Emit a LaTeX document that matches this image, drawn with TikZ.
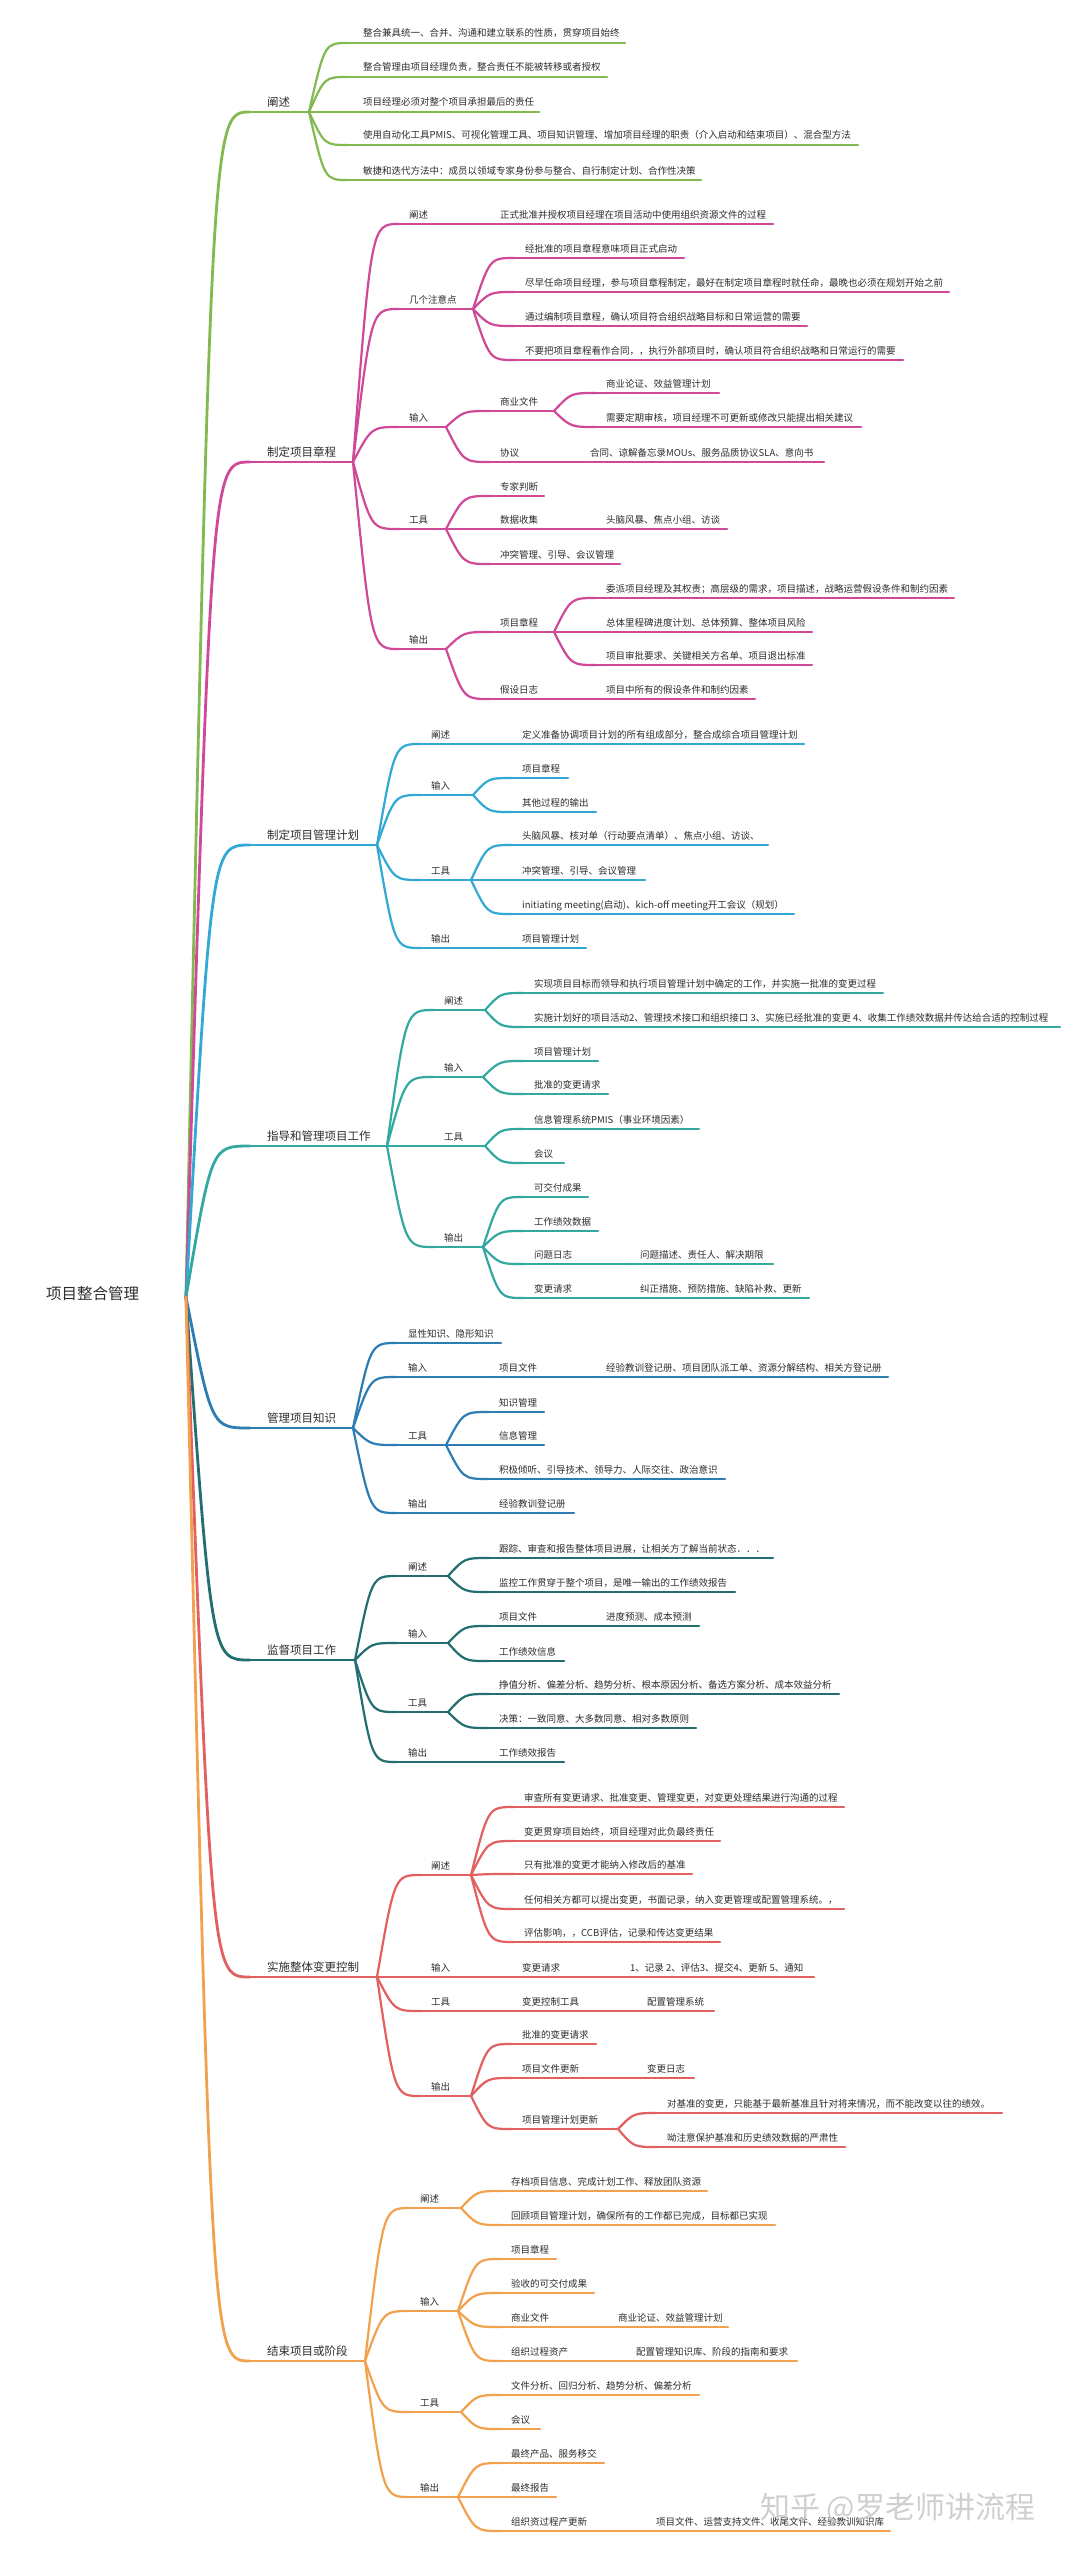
\documentclass[tikz,border=0pt]{standalone}
\usepackage{fontspec}
\setmainfont{Noto Sans CJK SC}
\usetikzlibrary{calc}
\definecolor{cA}{RGB}{130,185,80}
\definecolor{cB}{RGB}{208,72,152}
\definecolor{cC}{RGB}{50,168,212}
\definecolor{cD}{RGB}{50,168,160}
\definecolor{cE}{RGB}{45,125,180}
\definecolor{cF}{RGB}{35,110,112}
\definecolor{cG}{RGB}{226,96,96}
\definecolor{cH}{RGB}{242,162,78}
\definecolor{txt}{RGB}{45,45,45}
\tikzset{
  ln/.style={line width=2.2pt, line cap=round},
  lnone/.style={line width=2.8pt, line cap=round},
  lf/.style={anchor=base west, inner sep=0pt, text=txt, font=\fontsize{9.5}{11}\selectfont},
  lonef/.style={anchor=base west, inner sep=0pt, text=txt, font=\fontsize{11.5}{13}\selectfont},
  rootf/.style={anchor=base west, inner sep=0pt, text=txt, font=\fontsize{15.5}{18}\selectfont},
  wm/.style={anchor=base west, inner sep=0pt, text=black!22, opacity=0.85, font=\fontsize{30}{34}\selectfont},
  conn/.style={to path={.. controls ($(\tikztostart|-\tikztotarget)!0.4!(\tikztotarget)$) .. (\tikztotarget)}}
}
% name, color, xs, xe, y, textx, text
\newcommand{\tpc}[7]{%
  \coordinate (#1s) at (#3,#5);
  \coordinate (#1e) at (#4,#5);
  \draw[#2,ln] (#1s) -- (#1e);
  \node[lf] (#1) at (#6,#5-6) {#7};
}
\newcommand{\tpl}[7]{%
  \coordinate (#1s) at (#3,#5);
  \coordinate (#1e) at (#4,#5);
  \draw[#2,lnone] (#1s) -- (#1e);
  \node[lonef] (#1) at (#6,#5-5.5) {#7};
}
\newcommand{\cnx}[3]{\draw[#1,ln] (#2e) to[conn] (#3s);}
\newcommand{\cnxl}[3]{\draw[#1,lnone] (#2e) to[conn] (#3s);}
\begin{document}
\begin{tikzpicture}[x=1pt,y=-1pt]
\fill[white] (0,0) rectangle (1080,2553);
\useasboundingbox (0,0) rectangle (1080,2553);

% root
\node[rootf] (R) at (46,1299) {项目整合管理};
\coordinate (Re) at (186,1297);

% level 1
\tpl{A}{cA}{250}{309}{112}{267}{阐述}
\tpl{B}{cB}{250}{353}{462}{267}{制定项目章程}
\tpl{C}{cC}{250}{377}{845}{267}{制定项目管理计划}
\tpl{D}{cD}{250}{387}{1146}{267}{指导和管理项目工作}
\tpl{E}{cE}{250}{353}{1428}{267}{管理项目知识}
\tpl{F}{cF}{250}{355}{1660}{267}{监督项目工作}
\tpl{G}{cG}{250}{377}{1977}{267}{实施整体变更控制}
\tpl{H}{cH}{250}{365}{2361}{267}{结束项目或阶段}
\cnxl{cA}{R}{A}
\cnxl{cB}{R}{B}
\cnxl{cC}{R}{C}
\cnxl{cD}{R}{D}
\cnxl{cE}{R}{E}
\cnxl{cF}{R}{F}
\cnxl{cG}{R}{G}
\cnxl{cH}{R}{H}

% A
\tpc{A1}{cA}{348}{625}{43}{363}{整合兼具统一、合并、沟通和建立联系的性质，贯穿项目始终}
\tpc{A2}{cA}{348}{607}{77}{363}{整合管理由项目经理负责，整合责任不能被转移或者授权}
\tpc{A3}{cA}{348}{539}{112}{363}{项目经理必须对整个项目承担最后的责任}
\tpc{A4}{cA}{348}{858}{145}{363}{使用自动化工具PMIS、可视化管理工具、项目知识管理、增加项目经理的职责（介入启动和结束项目）、混合型方法}
\tpc{A5}{cA}{348}{701}{180}{363}{敏捷和迭代方法中：成员以领域专家身份参与整合、自行制定计划、合作性决策}
\cnx{cA}{A}{A1}\cnx{cA}{A}{A2}\cnx{cA}{A}{A3}\cnx{cA}{A}{A4}\cnx{cA}{A}{A5}

% B
\tpc{B1}{cB}{399}{490}{224}{409}{阐述}
\tpc{B11}{cB}{490}{773}{224}{500}{正式批准并授权项目经理在项目活动中使用组织资源文件的过程}
\tpc{B2}{cB}{399}{473}{309}{409}{几个注意点}
\tpc{B21}{cB}{515}{684}{258}{525}{经批准的项目章程意味项目正式启动}
\tpc{B22}{cB}{515}{949}{292}{525}{尽早任命项目经理，参与项目章程制定，最好在制定项目章程时就任命，最晚也必须在规划开始之前}
\tpc{B23}{cB}{515}{807}{326}{525}{通过编制项目章程，确认项目符合组织战略目标和日常运营的需要}
\tpc{B24}{cB}{515}{903}{360}{525}{不要把项目章程看作合同，，执行外部项目时，确认项目符合组织战略和日常运行的需要}
\tpc{B3}{cB}{399}{446}{427}{409}{输入}
\tpc{B31}{cB}{490}{554}{411}{500}{商业文件}
\tpc{B311}{cB}{596}{719}{393}{606}{商业论证、效益管理计划}
\tpc{B312}{cB}{596}{861}{427}{606}{需要定期审核，项目经理不可更新或修改只能提出相关建议}
\tpc{B32}{cB}{490}{580}{462}{500}{协议}
\tpc{B321}{cB}{580}{824}{462}{590}{合同、谅解备忘录MOUs、服务品质协议SLA、意向书}
\tpc{B4}{cB}{399}{446}{529}{409}{工具}
\tpc{B41}{cB}{490}{544}{496}{500}{专家判断}
\tpc{B42}{cB}{490}{596}{529}{500}{数据收集}
\tpc{B421}{cB}{596}{727}{529}{606}{头脑风暴、焦点小组、访谈}
\tpc{B43}{cB}{490}{620}{564}{500}{冲突管理、引导、会议管理}
\tpc{B5}{cB}{399}{446}{649}{409}{输出}
\tpc{B51}{cB}{490}{554}{632}{500}{项目章程}
\tpc{B511}{cB}{596}{954}{598}{606}{委派项目经理及其权责；高层级的需求，项目描述，战略运营假设条件和制约因素}
\tpc{B512}{cB}{596}{812}{632}{606}{总体里程碑进度计划、总体预算、整体项目风险}
\tpc{B513}{cB}{596}{812}{665}{606}{项目审批要求、关键相关方名单、项目退出标准}
\tpc{B52}{cB}{490}{596}{699}{500}{假设日志}
\tpc{B521}{cB}{596}{755}{699}{606}{项目中所有的假设条件和制约因素}
\cnx{cB}{B}{B1}\cnx{cB}{B}{B2}\cnx{cB}{B}{B3}\cnx{cB}{B}{B4}\cnx{cB}{B}{B5}
\cnx{cB}{B1}{B11}
\cnx{cB}{B2}{B21}\cnx{cB}{B2}{B22}\cnx{cB}{B2}{B23}\cnx{cB}{B2}{B24}
\cnx{cB}{B3}{B31}\cnx{cB}{B3}{B32}\cnx{cB}{B31}{B311}\cnx{cB}{B31}{B312}\cnx{cB}{B32}{B321}
\cnx{cB}{B4}{B41}\cnx{cB}{B4}{B42}\cnx{cB}{B4}{B43}\cnx{cB}{B42}{B421}
\cnx{cB}{B5}{B51}\cnx{cB}{B5}{B52}\cnx{cB}{B51}{B511}\cnx{cB}{B51}{B512}\cnx{cB}{B51}{B513}\cnx{cB}{B52}{B521}

% C
\tpc{C1}{cC}{421}{512}{744}{431}{阐述}
\tpc{C11}{cC}{512}{804}{744}{522}{定义准备协调项目计划的所有组成部分，整合成综合项目管理计划}
\tpc{C2}{cC}{421}{473}{795}{431}{输入}
\tpc{C21}{cC}{512}{568}{778}{522}{项目章程}
\tpc{C22}{cC}{512}{596}{812}{522}{其他过程的输出}
\tpc{C3}{cC}{421}{471}{880}{431}{工具}
\tpc{C31}{cC}{512}{768}{845}{522}{头脑风暴、核对单（行动要点清单）、焦点小组、访谈、}
\tpc{C32}{cC}{512}{645}{880}{522}{冲突管理、引导、会议管理}
\tpc{C33}{cC}{512}{794}{914}{522}{initiating meeting(启动)、kich-off meeting开工会议（规划）}
\tpc{C4}{cC}{421}{512}{948}{431}{输出}
\tpc{C41}{cC}{512}{586}{948}{522}{项目管理计划}
\cnx{cC}{C}{C1}\cnx{cC}{C}{C2}\cnx{cC}{C}{C3}\cnx{cC}{C}{C4}
\cnx{cC}{C1}{C11}\cnx{cC}{C2}{C21}\cnx{cC}{C2}{C22}
\cnx{cC}{C3}{C31}\cnx{cC}{C3}{C32}\cnx{cC}{C3}{C33}\cnx{cC}{C4}{C41}

% D
\tpc{D1}{cD}{434}{485}{1010}{444}{阐述}
\tpc{D11}{cD}{524}{883}{993}{534}{实现项目目标而领导和执行项目管理计划中确定的工作，并实施一批准的变更过程}
\tpc{D12}{cD}{524}{1060}{1027}{534}{实施计划好的项目活动2、管理技术接口和组织接口 3、实施已经批准的变更 4、收集工作绩效数据并传达给合适的控制过程}
\tpc{D2}{cD}{434}{483}{1077}{444}{输入}
\tpc{D21}{cD}{524}{598}{1061}{534}{项目管理计划}
\tpc{D22}{cD}{524}{608}{1094}{534}{批准的变更请求}
\tpc{D3}{cD}{434}{485}{1146}{444}{工具}
\tpc{D31}{cD}{524}{699}{1129}{534}{信息管理系统PMIS（事业环境因素）}
\tpc{D32}{cD}{524}{564}{1163}{534}{会议}
\tpc{D4}{cD}{434}{483}{1247}{444}{输出}
\tpc{D41}{cD}{524}{588}{1197}{534}{可交付成果}
\tpc{D42}{cD}{524}{598}{1231}{534}{工作绩效数据}
\tpc{D43}{cD}{524}{630}{1264}{534}{问题日志}
\tpc{D431}{cD}{630}{773}{1264}{640}{问题描述、责任人、解决期限}
\tpc{D44}{cD}{524}{630}{1298}{534}{变更请求}
\tpc{D441}{cD}{630}{809}{1298}{640}{纠正措施、预防措施、缺陷补救、更新}
\cnx{cD}{D}{D1}\cnx{cD}{D}{D2}\cnx{cD}{D}{D3}\cnx{cD}{D}{D4}
\cnx{cD}{D1}{D11}\cnx{cD}{D1}{D12}\cnx{cD}{D2}{D21}\cnx{cD}{D2}{D22}
\cnx{cD}{D3}{D31}\cnx{cD}{D3}{D32}
\cnx{cD}{D4}{D41}\cnx{cD}{D4}{D42}\cnx{cD}{D4}{D43}\cnx{cD}{D4}{D44}
\cnx{cD}{D43}{D431}\cnx{cD}{D44}{D441}

% E
\tpc{E1}{cE}{397}{501}{1343}{408}{显性知识、隐形知识}
\tpc{E2}{cE}{397}{489}{1377}{408}{输入}
\tpc{E21}{cE}{489}{596}{1377}{499}{项目文件}
\tpc{E211}{cE}{596}{888}{1377}{606}{经验教训登记册、项目团队派工单、资源分解结构、相关方登记册}
\tpc{E3}{cE}{397}{446}{1445}{408}{工具}
\tpc{E31}{cE}{489}{544}{1412}{499}{知识管理}
\tpc{E32}{cE}{489}{544}{1445}{499}{信息管理}
\tpc{E33}{cE}{489}{725}{1479}{499}{积极倾听、引导技术、领导力、人际交往、政治意识}
\tpc{E4}{cE}{397}{489}{1513}{408}{输出}
\tpc{E41}{cE}{489}{574}{1513}{499}{经验教训登记册}
\cnx{cE}{E}{E1}\cnx{cE}{E}{E2}\cnx{cE}{E}{E3}\cnx{cE}{E}{E4}
\cnx{cE}{E2}{E21}\cnx{cE}{E21}{E211}
\cnx{cE}{E3}{E31}\cnx{cE}{E3}{E32}\cnx{cE}{E3}{E33}\cnx{cE}{E4}{E41}

% F
\tpc{F1}{cF}{397}{448}{1576}{408}{阐述}
\tpc{F11}{cF}{489}{773}{1558}{499}{跟踪、审查和报告整体项目进展，让相关方了解当前状态．．．}
\tpc{F12}{cF}{489}{735}{1592}{499}{监控工作贯穿于整个项目，是唯一输出的工作绩效报告}
\tpc{F2}{cF}{397}{448}{1643}{408}{输入}
\tpc{F21}{cF}{489}{596}{1626}{499}{项目文件}
\tpc{F211}{cF}{596}{699}{1626}{606}{进度预测、成本预测}
\tpc{F22}{cF}{489}{564}{1661}{499}{工作绩效信息}
\tpc{F3}{cF}{397}{448}{1712}{408}{工具}
\tpc{F31}{cF}{489}{839}{1694}{499}{挣值分析、偏差分析、趋势分析、根本原因分析、备选方案分析、成本效益分析}
\tpc{F32}{cF}{489}{696}{1728}{499}{决策：一致同意、大多数同意、相对多数原则}
\tpc{F4}{cF}{397}{489}{1762}{408}{输出}
\tpc{F41}{cF}{489}{564}{1762}{499}{工作绩效报告}
\cnx{cF}{F}{F1}\cnx{cF}{F}{F2}\cnx{cF}{F}{F3}\cnx{cF}{F}{F4}
\cnx{cF}{F1}{F11}\cnx{cF}{F1}{F12}\cnx{cF}{F2}{F21}\cnx{cF}{F21}{F211}\cnx{cF}{F2}{F22}
\cnx{cF}{F3}{F31}\cnx{cF}{F3}{F32}\cnx{cF}{F4}{F41}

% G
\tpc{G1}{cG}{421}{471}{1875}{431}{阐述}
\tpc{G11}{cG}{514}{844}{1807}{524}{审查所有变更请求、批准变更、管理变更，对变更处理结果进行沟通的过程}
\tpc{G12}{cG}{514}{720}{1841}{524}{变更贯穿项目始终，项目经理对此负最终责任}
\tpc{G13}{cG}{514}{692}{1874}{524}{只有批准的变更才能纳入修改后的基准}
\tpc{G14}{cG}{514}{844}{1909}{524}{任何相关方都可以提出变更，书面记录，纳入变更管理或配置管理系统。，}
\tpc{G15}{cG}{514}{720}{1942}{524}{评估影响，，CCB评估，记录和传达变更结果}
\tpc{G2}{cG}{421}{512}{1977}{431}{输入}
\tpc{G21}{cG}{512}{620}{1977}{522}{变更请求}
\tpc{G211}{cG}{620}{814}{1977}{630}{1、记录 2、评估3、提交4、更新 5、通知}
\tpc{G3}{cG}{421}{512}{2011}{431}{工具}
\tpc{G31}{cG}{512}{637}{2011}{522}{变更控制工具}
\tpc{G311}{cG}{637}{714}{2011}{647}{配置管理系统}
\tpc{G4}{cG}{421}{471}{2096}{431}{输出}
\tpc{G41}{cG}{512}{596}{2044}{522}{批准的变更请求}
\tpc{G42}{cG}{512}{637}{2078}{522}{项目文件更新}
\tpc{G421}{cG}{637}{694}{2078}{647}{变更日志}
\tpc{G43}{cG}{512}{618}{2129}{522}{项目管理计划更新}
\tpc{G431}{cG}{657}{1002}{2113}{667}{对基准的变更，只能基于最新基准且针对将来情况，而不能改变以往的绩效。}
\tpc{G432}{cG}{657}{845}{2147}{667}{呦注意保护基准和历史绩效数据的严肃性}
\cnx{cG}{G}{G1}\cnx{cG}{G}{G2}\cnx{cG}{G}{G3}\cnx{cG}{G}{G4}
\cnx{cG}{G1}{G11}\cnx{cG}{G1}{G12}\cnx{cG}{G1}{G13}\cnx{cG}{G1}{G14}\cnx{cG}{G1}{G15}
\cnx{cG}{G2}{G21}\cnx{cG}{G21}{G211}\cnx{cG}{G3}{G31}\cnx{cG}{G31}{G311}
\cnx{cG}{G4}{G41}\cnx{cG}{G4}{G42}\cnx{cG}{G4}{G43}\cnx{cG}{G42}{G421}
\cnx{cG}{G43}{G431}\cnx{cG}{G43}{G432}

% H
\tpc{H1}{cH}{410}{461}{2208}{420}{阐述}
\tpc{H11}{cH}{501}{707}{2191}{511}{存档项目信息、完成计划工作、释放团队资源}
\tpc{H12}{cH}{501}{775}{2225}{511}{回顾项目管理计划，确保所有的工作都已完成，目标都已实现}
\tpc{H2}{cH}{410}{458}{2311}{420}{输入}
\tpc{H21}{cH}{501}{556}{2259}{511}{项目章程}
\tpc{H22}{cH}{501}{594}{2293}{511}{验收的可交付成果}
\tpc{H23}{cH}{501}{608}{2327}{511}{商业文件}
\tpc{H231}{cH}{608}{728}{2327}{618}{商业论证、效益管理计划}
\tpc{H24}{cH}{501}{626}{2361}{511}{组织过程资产}
\tpc{H241}{cH}{626}{797}{2361}{636}{配置管理知识库、阶段的指南和要求}
\tpc{H3}{cH}{410}{461}{2412}{420}{工具}
\tpc{H31}{cH}{501}{699}{2395}{511}{文件分析、回归分析、趋势分析、偏差分析}
\tpc{H32}{cH}{501}{540}{2429}{511}{会议}
\tpc{H4}{cH}{410}{458}{2497}{420}{输出}
\tpc{H41}{cH}{501}{604}{2463}{511}{最终产品、服务移交}
\tpc{H42}{cH}{501}{556}{2497}{511}{最终报告}
\tpc{H43}{cH}{501}{646}{2531}{511}{组织资过程产更新}
\tpc{H431}{cH}{646}{890}{2531}{656}{项目文件、运营支持文件、收尾文件、经验教训知识库}
\cnx{cH}{H}{H1}\cnx{cH}{H}{H2}\cnx{cH}{H}{H3}\cnx{cH}{H}{H4}
\cnx{cH}{H1}{H11}\cnx{cH}{H1}{H12}
\cnx{cH}{H2}{H21}\cnx{cH}{H2}{H22}\cnx{cH}{H2}{H23}\cnx{cH}{H2}{H24}
\cnx{cH}{H23}{H231}\cnx{cH}{H24}{H241}
\cnx{cH}{H3}{H31}\cnx{cH}{H3}{H32}
\cnx{cH}{H4}{H41}\cnx{cH}{H4}{H42}\cnx{cH}{H4}{H43}\cnx{cH}{H43}{H431}

% watermark
\node[wm] (W) at (760,2518) {知乎 @罗老师讲流程};
\end{tikzpicture}
\end{document}
